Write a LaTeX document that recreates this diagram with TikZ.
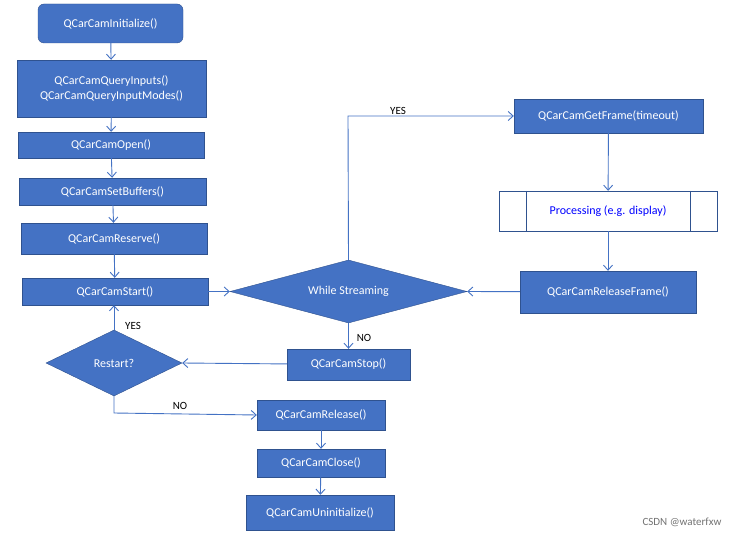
\documentclass[tikz,border=0pt]{standalone}
\usepackage{fontspec}
\setmainfont{Carlito}
\usetikzlibrary{arrows.meta,shapes.geometric}
\definecolor{fillb}{HTML}{4472C4}
\definecolor{edgeb}{HTML}{2F528F}
\begin{document}
\begin{tikzpicture}[x=1pt,y=-1pt,
  font=\fontsize{12}{15}\selectfont,
  box/.style={draw=edgeb,fill=fillb,text=white,minimum width=#1,inner sep=0pt,align=center},
  dia/.style={diamond,aspect=3.7,draw=edgeb,fill=fillb,text=white,inner sep=0pt},
  arr/.style={draw=fillb,line width=0.9pt,-{Straight Barb[length=5pt,width=9pt]}},
  lab/.style={font=\fontsize{11}{13}\selectfont,text=black}]
\path[use as bounding box,fill=white] (0,0) rectangle (749,537);
\node[box=145pt,minimum height=39pt,rounded corners=6pt] (init) at (110.5,23.5) {QCarCamInitialize()};
\node[box=189pt,minimum height=57pt] (query) at (111.5,88.5) {QCarCamQueryInputs()\\QCarCamQueryInputModes()};
\node[box=186pt,minimum height=26pt] (open) at (111,145) {QCarCamOpen()};
\node[box=187pt,minimum height=27pt] (setb) at (112.5,191.5) {QCarCamSetBuffers()};
\node[box=186pt,minimum height=31pt] (res) at (114,238.5) {QCarCamReserve()};
\node[box=186pt,minimum height=27pt] (start) at (115,291.5) {QCarCamStart()};
\node[dia,minimum width=237pt,minimum height=63pt] (while) at (348.5,291.5) {While Streaming};
\node[box=189pt,minimum height=34pt] (get) at (608.5,116) {QCarCamGetFrame(timeout)};
\node[draw=edgeb,fill=white,text=blue,minimum width=218pt,minimum height=40pt,inner sep=0pt] (proc) at (608,211) {Processing (e.g. display)};
\draw[edgeb] (526,191) -- (526,231) (690,191) -- (690,231);
\node[box=176pt,minimum height=42pt] (relf) at (608,292) {QCarCamReleaseFrame()};
\node[box=123pt,minimum height=31pt] (stop) at (348.5,364.5) {QCarCamStop()};
\node[dia,minimum width=136pt,minimum height=66pt,aspect=2] (rest) at (114,363) {Restart?};
\node[box=128pt,minimum height=30pt] (rel) at (321,415) {QCarCamRelease()};
\node[box=128pt,minimum height=28pt] (close) at (321,463) {QCarCamClose()};
\node[box=148pt,minimum height=35pt] (unin) at (320,512.5) {QCarCamUninitialize()};
\coordinate (c1) at (348,116);
\coordinate (c2) at (114,413);
\draw[arr] (init) -- (query);
\draw[arr] (query) -- (open);
\draw[arr] (open) -- (setb);
\draw[arr] (setb) -- (res);
\draw[arr] (res) -- (start);
\draw[arr] (start) -- (while);
\draw[arr] (while.north) -- (c1) -- (get);
\draw[arr] (get) -- (proc);
\draw[arr] (proc) -- (relf);
\draw[arr] (relf) -- (while.east);
\draw[arr] (while.south) -- (stop);
\draw[arr] (stop) -- (rest.east);
\draw[arr] (rest.north) -- (start.south -| rest.north);
\draw[arr] (rest.south) -- (c2) -- (rel.west);
\draw[arr] (rel) -- (close);
\draw[arr] (close) -- (unin);
\node[lab] (y1) at (398,111) {YES};
\node[lab] (n1) at (364,338) {NO};
\node[lab] (y2) at (133,326) {YES};
\node[lab] (n2) at (180,406) {NO};
\node[text=gray!90!black,font=\fontsize{11}{13}\selectfont] (wm) at (682,522) {CSDN @waterfxw};
\end{tikzpicture}
\end{document}
